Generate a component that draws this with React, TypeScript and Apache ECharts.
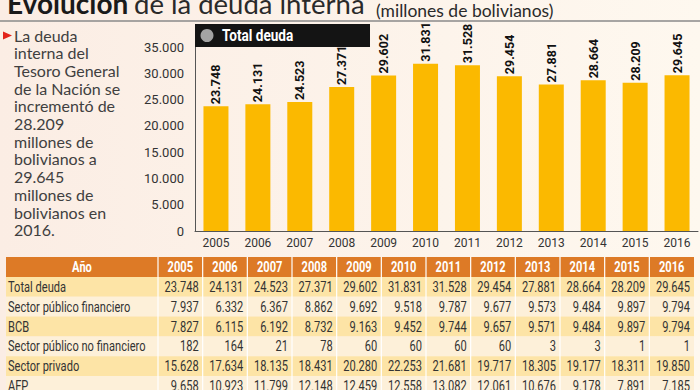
import React, { useEffect, useRef } from "react";
import * as echarts from "echarts";

const years = ["2005", "2006", "2007", "2008", "2009", "2010", "2011", "2012", "2013", "2014", "2015", "2016"];
const totalDeuda = [23748, 24131, 24523, 27371, 29602, 31831, 31528, 29454, 27881, 28664, 28209, 29645];
const sectorPublicoFinanciero = [7937, 6332, 6367, 8862, 9692, 9518, 9787, 9677, 9573, 9484, 9897, 9794];
const bcb = [7827, 6115, 6192, 8732, 9163, 9452, 9744, 9657, 9571, 9484, 9897, 9794];
const sectorPublicoNoFinanciero = [182, 164, 21, 78, 60, 60, 60, 60, 3, 3, 1, 1];
const sectorPrivado = [15628, 17634, 18135, 18431, 20280, 22253, 21681, 19717, 18305, 19177, 18311, 19850];
const afp = [9658, 10923, 11799, 12148, 12459, 12558, 13082, 12061, 10676, 9178, 7891, 7185];

const rowLabels = ["Total deuda", "Sector público financiero", "BCB", "Sector público no financiero", "Sector privado", "AFP"];
const rowValues = [totalDeuda, sectorPublicoFinanciero, bcb, sectorPublicoNoFinanciero, sectorPrivado, afp];

const sideText = [
  "La deuda",
  "interna del",
  "Tesoro General",
  "de la Nación se",
  "incrementó de",
  "28.209",
  "millones de",
  "bolivianos a",
  "29.645",
  "millones de",
  "bolivianos en",
  "2016.",
];

const COND = "Roboto, 'Liberation Sans', sans-serif";
const SANS = "Lato, 'Noto Sans', sans-serif";
const SX = 0.74;

function fmt(n: number): string {
  if (n >= 1000) {
    return Math.floor(n / 1000) + "." + String(n % 1000).padStart(3, "0");
  }
  return String(n);
}

export default function App() {
  const ref = useRef<HTMLDivElement>(null);
  useEffect(() => {
    if (!ref.current) return;
    const chart = echarts.init(ref.current, undefined, { renderer: "svg" });

    const graphic: any[] = [];
    // title
    graphic.push({
      type: "text", x: 7, y: 17,
      style: { text: "Evolución", font: `bold 28px ${SANS}`, fill: "#1a1a1a", verticalAlign: "bottom" },
    });
    graphic.push({
      type: "text", x: 134, y: 17,
      style: { text: "de la deuda interna", font: `27.5px ${SANS}`, fill: "#2a2a2a", verticalAlign: "bottom" },
    });
    graphic.push({
      type: "text", x: 376, y: 19,
      style: { text: "(millones de bolivianos)", font: `17.5px ${SANS}`, fill: "#2a2a2a", verticalAlign: "bottom" },
    });
    graphic.push({
      type: "line", shape: { x1: 0, y1: 21, x2: 700, y2: 21 },
      style: { stroke: "#8a8a8a", lineWidth: 1.5 },
    });
    // side text
    graphic.push({
      type: "polygon", shape: { points: [[3, 31.5], [12, 35.5], [3, 39.5]] },
      style: { fill: "#e2231a" },
    });
    sideText.forEach((t, i) => {
      graphic.push({
        type: "text", x: 14, y: 35 + i * 17.7,
        style: { text: t, font: `16px ${SANS}`, fill: "#404040", verticalAlign: "middle" },
      });
    });
    // legend box
    graphic.push({ type: "rect", z: 10, shape: { x: 195, y: 24, width: 175, height: 23 }, style: { fill: "#141414" } });
    graphic.push({ type: "circle", z: 11, shape: { cx: 207, cy: 35.5, r: 6.5 }, style: { fill: "#a3a3a3" } });
    graphic.push({
      type: "text", z: 11, x: 222, y: 35.5, scaleX: 0.85,
      style: { text: "Total deuda", font: `bold 16px ${COND}`, fill: "#ffffff", verticalAlign: "middle" },
    });

    // table
    const tx0 = 6;
    const labelW = 152;
    const tx1 = 694;
    const colW = (tx1 - tx0 - labelW) / years.length;
    const headY = 257;
    const headH = 20;
    const rowH = 19.8;
    graphic.push({ type: "rect", shape: { x: tx0, y: headY, width: tx1 - tx0, height: headH }, style: { fill: "#dd7a26" } });
    graphic.push({
      type: "text", x: tx0 + labelW / 2, y: headY + headH / 2, scaleX: SX,
      style: { text: "Año", font: `bold 15px ${COND}`, fill: "#fff", align: "center", verticalAlign: "middle" },
    });
    years.forEach((y, c) => {
      graphic.push({
        type: "text", x: tx0 + labelW + colW * (c + 0.5), y: headY + headH / 2, scaleX: SX,
        style: { text: y, font: `bold 15px ${COND}`, fill: "#fff", align: "center", verticalAlign: "middle" },
      });
    });
    rowLabels.forEach((lab, r) => {
      const ry = headY + headH + r * rowH;
      graphic.push({
        type: "rect", shape: { x: tx0, y: ry, width: tx1 - tx0, height: rowH },
        style: { fill: r % 2 === 0 ? "#fde4a6" : "#fdf0d9" },
      });
      graphic.push({
        type: "text", x: tx0 + 2, y: ry + rowH / 2, scaleX: SX,
        style: { text: lab, font: `15px ${COND}`, fill: "#333", verticalAlign: "middle" },
      });
      rowValues[r].forEach((v, c) => {
        graphic.push({
          type: "text", x: tx0 + labelW + colW * (c + 1) - 4, y: ry + rowH / 2, scaleX: SX,
          style: { text: fmt(v), font: `15px ${COND}`, fill: "#333", align: "right", verticalAlign: "middle" },
        });
      });
    });
    for (let c = 0; c < years.length; c++) {
      const x = tx0 + labelW + colW * c;
      graphic.push({
        type: "line", shape: { x1: x, y1: headY, x2: x, y2: 390 },
        style: { stroke: "#ffffff", lineWidth: 1.2 },
      });
    }

    chart.setOption({
      animation: false,
      backgroundColor: {
        type: "linear", x: 0, y: 0, x2: 1, y2: 0,
        colorStops: [{ offset: 0, color: "#fbede4" }, { offset: 1, color: "#fef8ef" }],
      },
      grid: { left: 195, right: 2, top: 47, bottom: 159 },
      xAxis: {
        type: "category", data: years,
        axisLine: { lineStyle: { color: "#555", width: 1 } },
        axisTick: { show: false },
        axisLabel: { color: "#333", fontSize: 12, fontFamily: COND, margin: 6 },
      },
      yAxis: {
        type: "value", min: 0, max: 35000, interval: 5000,
        axisLine: { show: true, lineStyle: { color: "#555", width: 1 } },
        axisTick: { show: false },
        splitLine: { show: false },
        axisLabel: { formatter: (v: number) => fmt(v), color: "#333", fontSize: 13, fontFamily: COND, margin: 11 },
      },
      series: [{
        type: "bar", data: totalDeuda, barWidth: 25,
        itemStyle: { color: "#fbb900" },
        label: {
          show: true, position: "top", rotate: 90, align: "left", verticalAlign: "middle", distance: 2,
          formatter: (p: any) => fmt(p.value), fontFamily: COND, fontWeight: "bold", fontSize: 12.5, color: "#111",
        },
      }],
      graphic,
    });
    return () => chart.dispose();
  }, []);
  return <div ref={ref} style={{ position: "absolute", left: 0, top: 0, width: 700, height: 390 }} />;
}
